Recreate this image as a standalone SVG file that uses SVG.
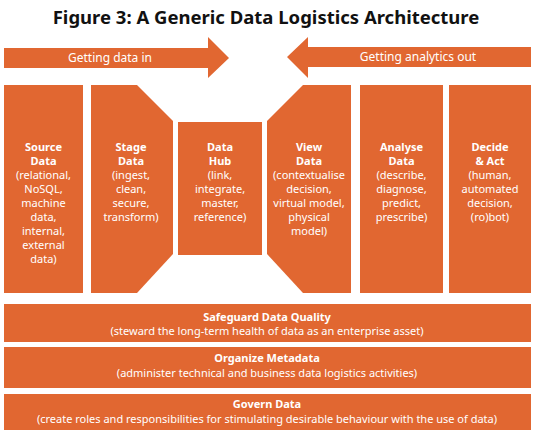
<svg xmlns="http://www.w3.org/2000/svg" width="537" height="435" viewBox="0 0 537 435">
<style>
.o{fill:#E16731}
.t{font-family:"Noto Sans","Open Sans","Liberation Sans",sans-serif;fill:#fff;text-anchor:middle;font-size:11px}
.b{font-weight:bold}
.h{font-family:"Noto Sans","Open Sans","Liberation Sans",sans-serif;font-weight:bold;font-size:18.5px;fill:#111;text-anchor:middle}
</style>
<rect width="537" height="435" fill="#fff"/>
<text class="h" x="266" y="24">Figure 3: A Generic Data Logistics Architecture</text>
<g id="connectors">
<g id="arrow-in">
<polygon class="o" points="4,48 208,48 208,37 229,58 208,78 208,68 4,68"/>
<text class="t" x="110" y="62" style="font-size:12px">Getting data in</text>
</g>
<g id="arrow-out">
<polygon class="o" points="531,47 308,47 308,37 287,57 308,78 308,67 531,67"/>
<text class="t" x="418" y="61" style="font-size:12px">Getting analytics out</text>
</g>
</g>
<g id="source">
<rect class="o" x="4" y="85" width="79" height="208"/>
<text class="t" x="43.5"><tspan class="b" x="43.5" y="151">Source</tspan><tspan class="b" x="43.5" y="165">Data</tspan><tspan x="43.5" y="179">(relational,</tspan><tspan x="43.5" y="193">NoSQL,</tspan><tspan x="43.5" y="207">machine</tspan><tspan x="43.5" y="221">data,</tspan><tspan x="43.5" y="235">internal,</tspan><tspan x="43.5" y="249">external</tspan><tspan x="43.5" y="263">data)</tspan></text>
</g>
<g id="stage">
<polygon class="o" points="91,85 137,85 173,121 173,254 137,293 91,293"/>
<text class="t" x="131"><tspan class="b" x="131" y="151">Stage</tspan><tspan class="b" x="131" y="165">Data</tspan><tspan x="131" y="179">(ingest,</tspan><tspan x="131" y="193">clean,</tspan><tspan x="131" y="207">secure,</tspan><tspan x="131" y="221">transform)</tspan></text>
</g>
<g id="hub">
<rect class="o" x="178" y="122" width="84" height="133"/>
<text class="t" x="220"><tspan class="b" x="220" y="151">Data</tspan><tspan class="b" x="220" y="165">Hub</tspan><tspan x="220" y="179">(link,</tspan><tspan x="220" y="193">integrate,</tspan><tspan x="220" y="207">master,</tspan><tspan x="220" y="221">reference)</tspan></text>
</g>
<g id="view">
<polygon class="o" points="303,85 351,85 351,293 303,293 267,254 267,121"/>
<text class="t" x="309"><tspan class="b" x="309" y="151">View</tspan><tspan class="b" x="309" y="165">Data</tspan><tspan x="309" y="179">(contextualise</tspan><tspan x="309" y="193">decision,</tspan><tspan x="309" y="207">virtual model,</tspan><tspan x="309" y="221">physical</tspan><tspan x="309" y="235">model)</tspan></text>
</g>
<g id="analyse">
<rect class="o" x="360" y="85" width="83" height="208"/>
<text class="t" x="401.5"><tspan class="b" x="401.5" y="151">Analyse</tspan><tspan class="b" x="401.5" y="165">Data</tspan><tspan x="401.5" y="179">(describe,</tspan><tspan x="401.5" y="193">diagnose,</tspan><tspan x="401.5" y="207">predict,</tspan><tspan x="401.5" y="221">prescribe)</tspan></text>
</g>
<g id="decide">
<rect class="o" x="449" y="85" width="82" height="208"/>
<text class="t" x="490"><tspan class="b" x="490" y="151">Decide</tspan><tspan class="b" x="490" y="165">&amp; Act</tspan><tspan x="490" y="179">(human,</tspan><tspan x="490" y="193">automated</tspan><tspan x="490" y="207">decision,</tspan><tspan x="490" y="221">(ro)bot)</tspan></text>
</g>
<g id="quality">
<rect class="o" x="4" y="304" width="527" height="38"/>
<text class="t"><tspan class="b" x="267" y="321">Safeguard Data Quality</tspan><tspan x="267" y="335">(steward the long-term health of data as an enterprise asset)</tspan></text>
</g>
<g id="metadata">
<rect class="o" x="4" y="347" width="527" height="41"/>
<text class="t"><tspan class="b" x="267" y="362">Organize Metadata</tspan><tspan x="267" y="377">(administer technical and business data logistics activities)</tspan></text>
</g>
<g id="govern">
<rect class="o" x="4" y="394" width="527" height="36"/>
<text class="t"><tspan class="b" x="267" y="408">Govern Data</tspan><tspan x="267" y="423">(create roles and responsibilities for stimulating desirable behaviour with the use of data)</tspan></text>
</g>
</svg>
